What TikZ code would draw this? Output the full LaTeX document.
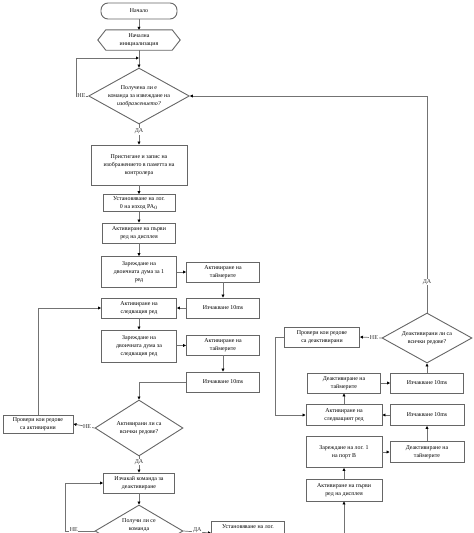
\documentclass[tikz,border=0pt]{standalone}
\usepackage{fontspec}
\setmainfont{Liberation Serif}
\usetikzlibrary{arrows.meta,shapes.geometric}
\begin{document}
\begin{tikzpicture}[x=1pt,y=-1pt,
  txt/.style={font=\fontsize{5.9}{8.2}\selectfont, align=center},
  stepbox/.style={draw=black!60, line width=0.9pt, fill=white, txt, inner sep=1pt},
  decbox/.style={diamond, draw=black!60, line width=0.9pt, fill=white, txt, inner sep=0pt, aspect=1.8},
  conn/.style={draw=black!55, line width=0.7pt, -{Triangle[length=3pt,width=2.8pt,fill=black,color=black]}},
  yn/.style={font=\fontsize{6}{7}\selectfont, fill=white, inner sep=0.6pt, text=black!80}]
\useasboundingbox (0,0) rectangle (474,533);
% main column
\node[stepbox, rounded corners=7pt, minimum width=76, minimum height=16] (start) at (139,11) {Начало};
\node[txt, minimum width=82, minimum height=20] (hex) at (139,40) {Начална\\инициализация};
\draw[draw=black!60, line width=0.9pt] ([xshift=8]hex.north west) -- ([xshift=-8]hex.north east) -- (hex.east) -- ([xshift=-8]hex.south east) -- ([xshift=8]hex.south west) -- (hex.west) -- cycle;
\node[decbox, minimum width=100, minimum height=52] (dec1) at (139,96) {Получена ли е\\команда за извеждане на\\\textit{изображението?}};
\node[stepbox, minimum width=96, minimum height=40] (b4) at (139,165) {Пристигане и запис на\\изображението в паметта на\\контролера};
\node[stepbox, minimum width=72, minimum height=17] (b5) at (139,203) {Установяване на лог.\\0 на изход PA$_0$};
\node[stepbox, minimum width=73, minimum height=20] (b6) at (139,233) {Активиране на първи\\ред на дисплея};
\node[stepbox, minimum width=75, minimum height=31] (b7) at (139,272) {Зареждане на\\двоичната дума за 1\\ред};
\node[stepbox, minimum width=73, minimum height=20] (b8) at (223,272) {Активиране на\\таймерите};
\node[stepbox, minimum width=73, minimum height=20] (b9) at (223,308) {Изчакване 10ms};
\node[stepbox, minimum width=75, minimum height=20] (b10) at (139,308) {Активиране на\\следващия ред};
\node[stepbox, minimum width=75, minimum height=32] (b11) at (139,346) {Зареждане на\\двоичната дума за\\следващия ред};
\node[stepbox, minimum width=73, minimum height=20] (b12) at (223,345) {Активиране на\\таймерите};
\node[stepbox, minimum width=73, minimum height=20] (b13) at (223,382) {Изчакване 10ms};
\node[decbox, minimum width=88, minimum height=56] (dec14) at (139,428) {Активирани ли са\\всички редове?};
\node[stepbox, minimum width=70, minimum height=18] (b15) at (38,424) {Провери кои редове\\са активирани};
\node[stepbox, minimum width=71, minimum height=20] (b16) at (139,483) {Изчакай команда за\\деактивиране};
\node[decbox, minimum width=88, minimum height=52] (dec17) at (139,531) {};
\node[txt] (dec17t) at (139,525) {Получи ли се\\команда};
\node[stepbox, minimum width=73, minimum height=24, text height=4.5pt, text depth=14.5pt] (b18) at (248,533) {Установяване на лог.};
% right column
\node[stepbox, minimum width=76, minimum height=22] (b19) at (344,490) {Активиране на първи\\ред на дисплея};
\node[stepbox, minimum width=76, minimum height=31] (b20) at (344,452) {Зареждане на лог. 1\\на порт B};
\node[stepbox, minimum width=74, minimum height=21] (b21) at (427,452) {Деактивиране на\\таймерите};
\node[stepbox, minimum width=74, minimum height=21] (b22) at (427,415) {Изчакване 10ms};
\node[stepbox, minimum width=76, minimum height=21] (b23) at (344,415) {Активиране на\\следващият ред};
\node[stepbox, minimum width=73, minimum height=20] (b24) at (344,383) {Деактивиране на\\таймерите};
\node[stepbox, minimum width=73, minimum height=20] (b25) at (427,383) {Изчакване 10ms};
\node[stepbox, minimum width=75, minimum height=20] (b26) at (322,337) {Провери кои редове\\са деактивирани};
\node[decbox, minimum width=90, minimum height=50] (dec27) at (427,338) {Деактивирани ли са\\всички редове?};
% coordinates
\coordinate (c1) at (76,96);
\coordinate (j1) at (139,58);
\coordinate (c17) at (65,531);
\coordinate (c26) at (275,337);
% connectors
\draw[conn] (start) -- (hex);
\draw[conn] (hex) -- (dec1);
\draw[conn] (dec1.west) -- node[yn, pos=0.55]{НЕ} (c1) |- (j1);
\draw[conn] (dec1.south) -- node[yn, pos=0.35]{ДА} (b4.north);
\draw[conn] (b4) -- (b5);
\draw[conn] (b5) -- (b6);
\draw[conn] (b6) -- (b7);
\draw[conn] (b7) -- (b8);
\draw[conn] (b8) -- (b9);
\draw[conn] (b9) -- (b10);
\draw[conn] (b10) -- (b11);
\draw[conn] (b11) -- (b12);
\draw[conn] (b12) -- (b13);
\draw[conn] (b13.west) -| (dec14.north);
\draw[conn] (dec14.west) -- node[yn, pos=0.35]{НЕ} (b15.east);
\draw[conn] (b15.north) |- (b10.west);
\draw[conn] (dec14.south) -- node[yn, pos=0.35]{ДА} (b16.north);
\draw[conn] (b16) -- (dec17);
\draw[conn] (dec17.west) -- node[yn, pos=0.7, yshift=1.5pt]{НЕ} (c17) |- (b16.west);
\draw[conn] (dec17.east) -- node[yn, pos=0.5, yshift=1.5pt]{ДА} (b18.west);
\draw[conn] (b18.east) -| (b19.south);
\draw[conn] (b19) -- (b20);
\draw[conn] (b20) -- (b21);
\draw[conn] (b21) -- (b22);
\draw[conn] (b22) -- (b23);
\draw[conn] (b23) -- (b24);
\draw[conn] (b24) -- (b25);
\draw[conn] (b25) -- (dec27);
\draw[conn] (dec27.west) -- node[yn, pos=0.35]{НЕ} (b26.east);
\draw[conn] (b26.west) -- (c26) |- (b23.west);
\draw[conn] (dec27.north) |- node[yn, pos=0.07]{ДА} (dec1.east);
\end{tikzpicture}
\end{document}
